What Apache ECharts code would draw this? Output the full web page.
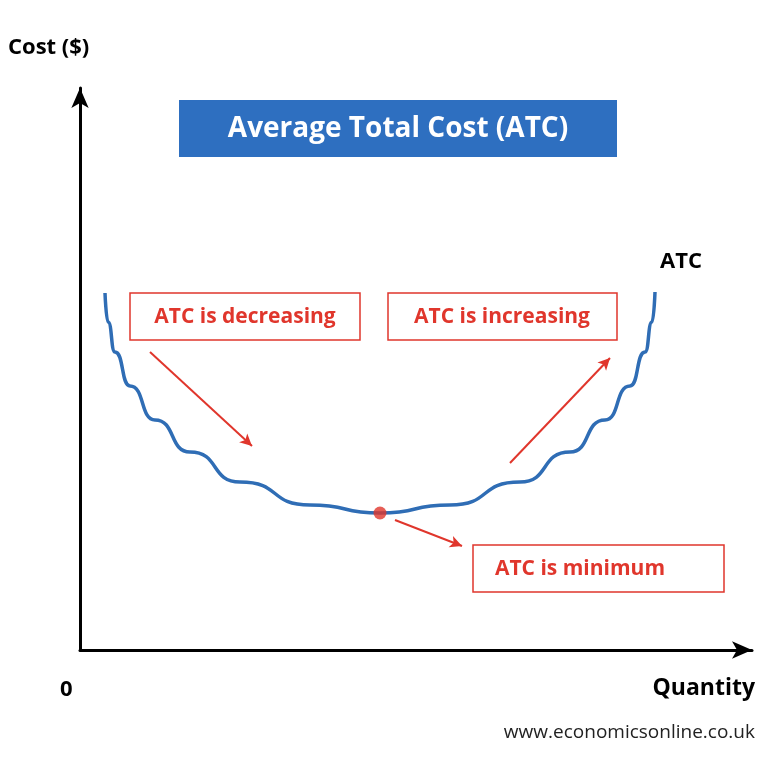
<!DOCTYPE html>
<html><head><meta charset="utf-8">
<script src="https://cdn.jsdelivr.net/npm/echarts@6/dist/echarts.min.js"></script>
<style>html,body{margin:0;padding:0;background:#fff}#c{width:768px;height:768px}</style>
</head><body><div id="c"></div>
<script>
// ATC curve points (quantity, cost) in arbitrary units
const atcX = [25, 28, 35, 50, 75, 110, 160, 230, 300, 370, 440, 490, 525, 550, 565, 572, 575];
const atcY = [357, 328, 298, 264, 230, 198, 168, 145, 137, 145, 168, 198, 230, 264, 298, 328, 358];
const minPoint = [300, 137];
const arrowDec = [[70, 298], [172, 204]];
const arrowInc = [[430, 187], [530, 292]];
const arrowMin = [[315, 130], [382, 104]];
const RED = '#e0362c', BLUE = '#2f6db5', F = '"Open Sans", "Noto Sans", sans-serif';
const chart = echarts.init(document.getElementById('c'));
chart.setOption({
  animation:false,
  grid:{left:80,right:16,top:88,bottom:118},
  xAxis:{type:'value',min:0,max:672,axisLine:{show:true,symbol:['none','arrow'],symbolSize:[13,20],lineStyle:{color:'#000',width:3}},axisTick:{show:false},axisLabel:{show:false},splitLine:{show:false}},
  yAxis:{type:'value',min:0,max:562,axisLine:{show:true,symbol:['none','arrow'],symbolSize:[13,20],lineStyle:{color:'#000',width:3}},axisTick:{show:false},axisLabel:{show:false},splitLine:{show:false}},
  series:[
    {type:'line',smooth:0.6,smoothMonotone:'x',showSymbol:false,data:atcX.map((x,i)=>[x,atcY[i]]),lineStyle:{color:BLUE,width:3.5},
     markLine:{silent:true,symbol:['none','arrow'],symbolSize:[9,12],label:{show:false},lineStyle:{color:RED,width:2,type:'solid'},
       data:[arrowDec.map(c=>({coord:c})),arrowInc.map(c=>({coord:c})),arrowMin.map(c=>({coord:c}))]}},
    {type:'scatter',data:[minPoint],symbolSize:13,itemStyle:{color:RED},z:5}
  ],
  graphic:[
    {type:'rect',shape:{x:179,y:100,width:438,height:57},style:{fill:'#2e6fc0'}},
    {type:'text',x:398,y:129,style:{text:'Average Total Cost (ATC)',fill:'#fff',font:'bold 28px '+F,align:'center',verticalAlign:'middle'}},
    {type:'text',x:8,y:48,style:{text:'Cost ($)',fill:'#000',font:'bold 22px '+F,verticalAlign:'middle'}},
    {type:'text',x:60,y:690,style:{text:'0',fill:'#000',font:'bold 22px '+F,verticalAlign:'middle'}},
    {type:'text',x:755,y:688,style:{text:'Quantity',fill:'#000',font:'bold 23px '+F,align:'right',verticalAlign:'middle'}},
    {type:'text',x:660,y:262,style:{text:'ATC',fill:'#000',font:'bold 22px '+F,verticalAlign:'middle'}},
    {type:'text',x:755,y:733,style:{text:'www.economicsonline.co.uk',fill:'#222',font:'19px '+F,align:'right',verticalAlign:'middle'}},
    {type:'rect',shape:{x:130,y:293,width:230,height:47},style:{fill:'#fff',stroke:RED,lineWidth:1.5}},
    {type:'text',x:245,y:317,style:{text:'ATC is decreasing',fill:RED,font:'bold 21px '+F,align:'center',verticalAlign:'middle'}},
    {type:'rect',shape:{x:388,y:293,width:229,height:47},style:{fill:'#fff',stroke:RED,lineWidth:1.5}},
    {type:'text',x:502,y:317,style:{text:'ATC is increasing',fill:RED,font:'bold 21px '+F,align:'center',verticalAlign:'middle'}},
    {type:'rect',shape:{x:473,y:545,width:251,height:47},style:{fill:'#fff',stroke:RED,lineWidth:1.5}},
    {type:'text',x:580,y:569,style:{text:'ATC is minimum',fill:RED,font:'bold 21px '+F,align:'center',verticalAlign:'middle'}}
  ]
});
</script></body></html>
